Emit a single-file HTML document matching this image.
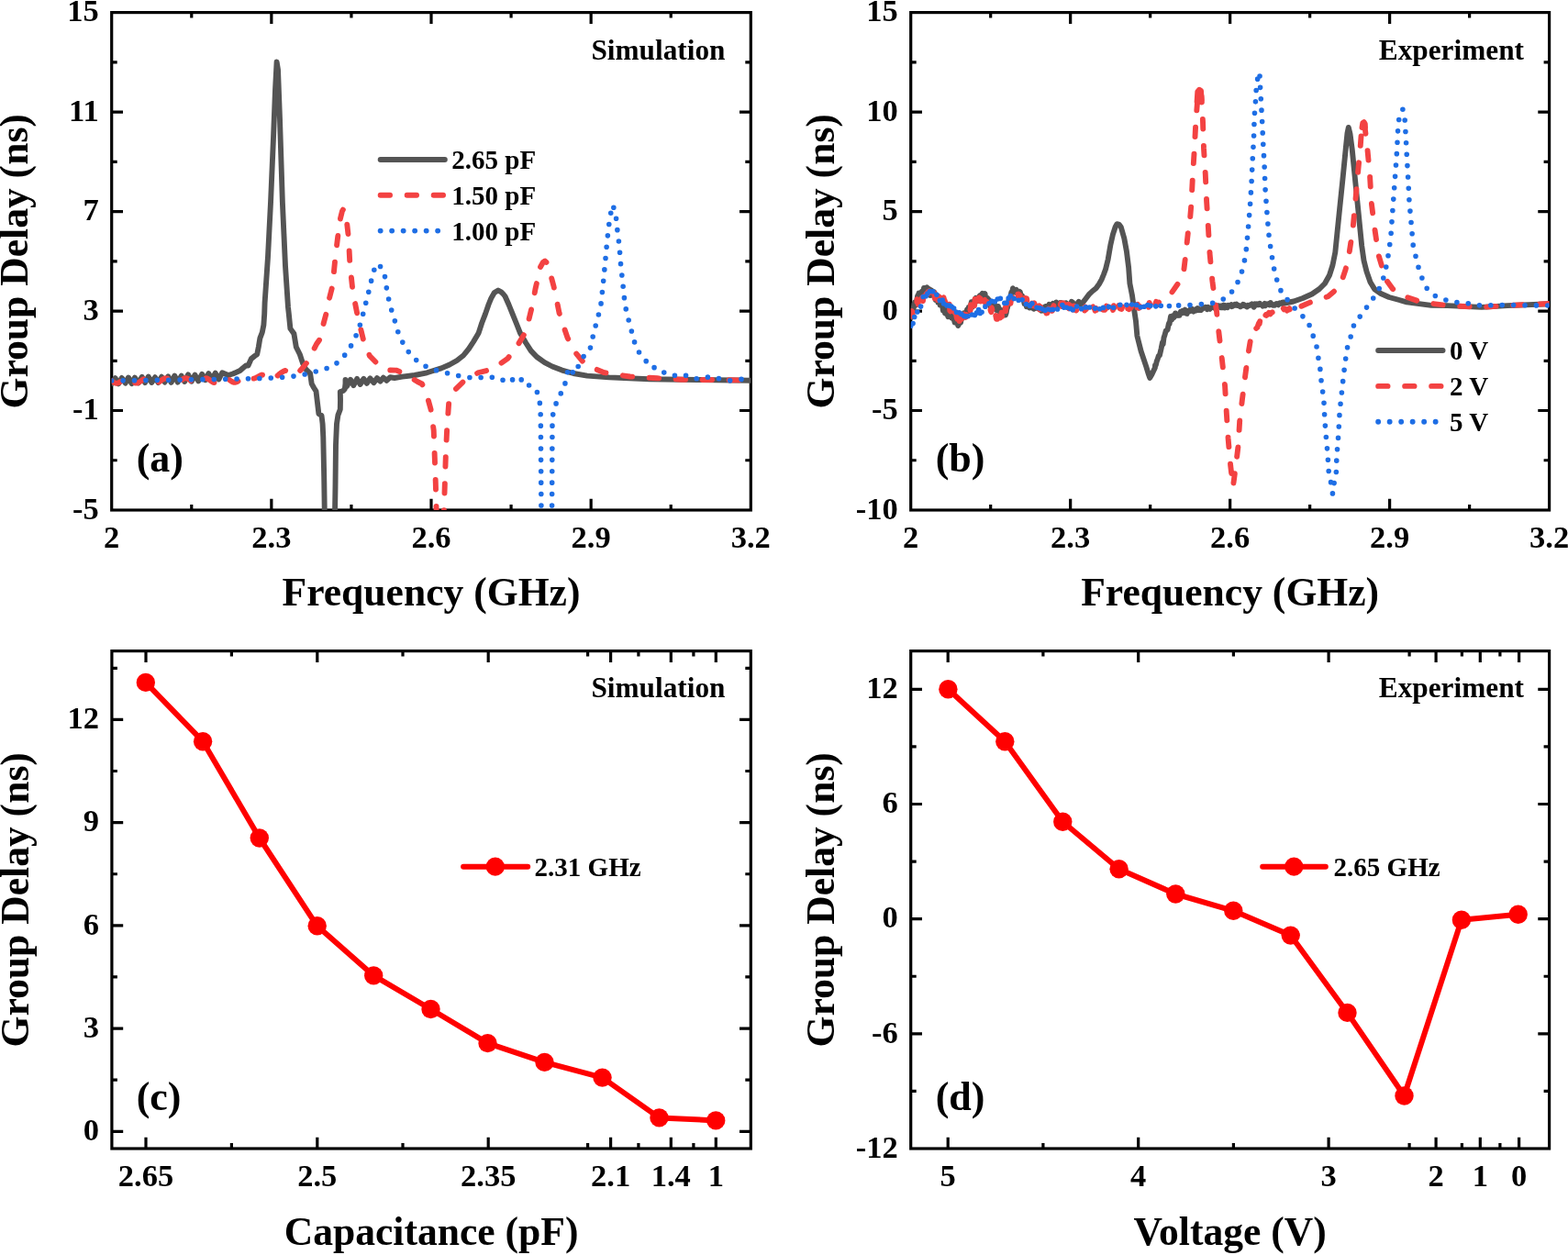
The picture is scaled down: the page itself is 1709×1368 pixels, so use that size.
<!DOCTYPE html>
<html><head><meta charset="utf-8"><title>Group delay figure</title><style>html,body{margin:0;padding:0;background:#fff;}
body{width:1709px;height:1368px;overflow:hidden;}
svg{display:block;}
text{font-family:'Liberation Serif', 'Times New Roman', serif;font-weight:bold;fill:#000;}
.t{font-size:34.5px;}
.ax{font-size:43.6px;}
.pl{font-size:44px;}
.an{font-size:31.3px;}
.lg{font-size:29px;}
</style></head>
<body><svg width="1709" height="1368" viewBox="0 0 1709 1368"><defs><clipPath id="clipa"><rect x="121.7" y="13.6" width="696.5999999999999" height="542.4"/></clipPath><clipPath id="clipb"><rect x="992.7" y="13.6" width="695.8999999999999" height="542.4"/></clipPath><clipPath id="clipc"><rect x="121.9" y="709.6" width="696.4" height="542.4"/></clipPath><clipPath id="clipd"><rect x="992.7" y="709.6" width="695.8999999999999" height="542.4"/></clipPath></defs><rect width="100%" height="100%" fill="#fff"/><rect x="121.7" y="13.6" width="696.6" height="542.4" fill="none" stroke="#000" stroke-width="3.2"/><rect x="992.7" y="13.6" width="695.9" height="542.4" fill="none" stroke="#000" stroke-width="3.2"/><rect x="121.9" y="709.6" width="696.4" height="542.4" fill="none" stroke="#000" stroke-width="3.2"/><rect x="992.7" y="709.6" width="695.9" height="542.4" fill="none" stroke="#000" stroke-width="3.2"/><path d="M295.85 556v-12.3M295.85 13.6v12.3M470 556v-12.3M470 13.6v12.3M644.15 556v-12.3M644.15 13.6v12.3M208.77 556v-6.0M208.77 13.6v6.0M382.93 556v-6.0M382.93 13.6v6.0M557.07 556v-6.0M557.07 13.6v6.0M731.22 556v-6.0M731.22 13.6v6.0" stroke="#000" stroke-width="3.2" fill="none"/><path d="M121.7 447.52h12.3M818.3 447.52h-12.3M121.7 339.04h12.3M818.3 339.04h-12.3M121.7 230.56h12.3M818.3 230.56h-12.3M121.7 122.08h12.3M818.3 122.08h-12.3M121.7 501.76h6.0M818.3 501.76h-6.0M121.7 393.28h6.0M818.3 393.28h-6.0M121.7 284.8h6.0M818.3 284.8h-6.0M121.7 176.32h6.0M818.3 176.32h-6.0M121.7 67.84h6.0M818.3 67.84h-6.0" stroke="#000" stroke-width="3.2" fill="none"/><text x="121.7" y="597" text-anchor="middle" class="t">2</text><text x="295.85" y="597" text-anchor="middle" class="t">2.3</text><text x="470" y="597" text-anchor="middle" class="t">2.6</text><text x="644.15" y="597" text-anchor="middle" class="t">2.9</text><text x="818.3" y="597" text-anchor="middle" class="t">3.2</text><text x="107.7" y="565.8" text-anchor="end" class="t">-5</text><text x="107.7" y="457.32" text-anchor="end" class="t">-1</text><text x="107.7" y="348.84" text-anchor="end" class="t">3</text><text x="107.7" y="240.36" text-anchor="end" class="t">7</text><text x="107.7" y="131.88" text-anchor="end" class="t">11</text><text x="107.7" y="23.4" text-anchor="end" class="t">15</text><path d="M1166.67 556v-12.3M1166.67 13.6v12.3M1340.65 556v-12.3M1340.65 13.6v12.3M1514.62 556v-12.3M1514.62 13.6v12.3M1079.69 556v-6.0M1079.69 13.6v6.0M1253.66 556v-6.0M1253.66 13.6v6.0M1427.64 556v-6.0M1427.64 13.6v6.0M1601.61 556v-6.0M1601.61 13.6v6.0" stroke="#000" stroke-width="3.2" fill="none"/><path d="M992.7 447.52h12.3M1688.6 447.52h-12.3M992.7 339.04h12.3M1688.6 339.04h-12.3M992.7 230.56h12.3M1688.6 230.56h-12.3M992.7 122.08h12.3M1688.6 122.08h-12.3M992.7 501.76h6.0M1688.6 501.76h-6.0M992.7 393.28h6.0M1688.6 393.28h-6.0M992.7 284.8h6.0M1688.6 284.8h-6.0M992.7 176.32h6.0M1688.6 176.32h-6.0M992.7 67.84h6.0M1688.6 67.84h-6.0" stroke="#000" stroke-width="3.2" fill="none"/><text x="992.7" y="597" text-anchor="middle" class="t">2</text><text x="1166.67" y="597" text-anchor="middle" class="t">2.3</text><text x="1340.65" y="597" text-anchor="middle" class="t">2.6</text><text x="1514.62" y="597" text-anchor="middle" class="t">2.9</text><text x="1688.6" y="597" text-anchor="middle" class="t">3.2</text><text x="978.7" y="565.8" text-anchor="end" class="t">-10</text><text x="978.7" y="457.32" text-anchor="end" class="t">-5</text><text x="978.7" y="348.84" text-anchor="end" class="t">0</text><text x="978.7" y="240.36" text-anchor="end" class="t">5</text><text x="978.7" y="131.88" text-anchor="end" class="t">10</text><text x="978.7" y="23.4" text-anchor="end" class="t">15</text><path d="M159 1252v-12.3M159 709.6v12.3M345.8 1252v-12.3M345.8 709.6v12.3M532.2 1252v-12.3M532.2 709.6v12.3M665.6 1252v-12.3M665.6 709.6v12.3M731.3 1252v-12.3M731.3 709.6v12.3M780.3 1252v-12.3M780.3 709.6v12.3M252.4 1252v-6.0M252.4 709.6v6.0M439 1252v-6.0M439 709.6v6.0M640.6 1252v-6.0M640.6 709.6v6.0M695.9 1252v-6.0M695.9 709.6v6.0M755.9 1252v-6.0M755.9 709.6v6.0" stroke="#000" stroke-width="3.2" fill="none"/><path d="M121.9 1233.3h12.3M818.3 1233.3h-12.3M121.9 1121.08h12.3M818.3 1121.08h-12.3M121.9 1008.86h12.3M818.3 1008.86h-12.3M121.9 896.63h12.3M818.3 896.63h-12.3M121.9 784.41h12.3M818.3 784.41h-12.3M121.9 1177.19h6.0M818.3 1177.19h-6.0M121.9 1064.97h6.0M818.3 1064.97h-6.0M121.9 952.74h6.0M818.3 952.74h-6.0M121.9 840.52h6.0M818.3 840.52h-6.0M121.9 728.3h6.0M818.3 728.3h-6.0" stroke="#000" stroke-width="3.2" fill="none"/><text x="159" y="1293" text-anchor="middle" class="t">2.65</text><text x="345.8" y="1293" text-anchor="middle" class="t">2.5</text><text x="532.2" y="1293" text-anchor="middle" class="t">2.35</text><text x="665.6" y="1293" text-anchor="middle" class="t">2.1</text><text x="731.3" y="1293" text-anchor="middle" class="t">1.4</text><text x="780.3" y="1293" text-anchor="middle" class="t">1</text><text x="107.9" y="1243.1" text-anchor="end" class="t">0</text><text x="107.9" y="1130.88" text-anchor="end" class="t">3</text><text x="107.9" y="1018.66" text-anchor="end" class="t">6</text><text x="107.9" y="906.43" text-anchor="end" class="t">9</text><text x="107.9" y="794.21" text-anchor="end" class="t">12</text><path d="M1033.2 1252v-12.3M1033.2 709.6v12.3M1240.7 1252v-12.3M1240.7 709.6v12.3M1448.1 1252v-12.3M1448.1 709.6v12.3M1565.1 1252v-12.3M1565.1 709.6v12.3M1613.3 1252v-12.3M1613.3 709.6v12.3M1655.6 1252v-12.3M1655.6 709.6v12.3M1136.9 1252v-6.0M1136.9 709.6v6.0M1344.4 1252v-6.0M1344.4 709.6v6.0M1536.1 1252v-6.0M1536.1 709.6v6.0M1593.4 1252v-6.0M1593.4 709.6v6.0M1634.9 1252v-6.0M1634.9 709.6v6.0" stroke="#000" stroke-width="3.2" fill="none"/><path d="M992.7 1126.83h12.3M1688.6 1126.83h-12.3M992.7 1001.66h12.3M1688.6 1001.66h-12.3M992.7 876.49h12.3M1688.6 876.49h-12.3M992.7 751.32h12.3M1688.6 751.32h-12.3M992.7 1189.42h6.0M1688.6 1189.42h-6.0M992.7 1064.25h6.0M1688.6 1064.25h-6.0M992.7 939.08h6.0M1688.6 939.08h-6.0M992.7 813.91h6.0M1688.6 813.91h-6.0" stroke="#000" stroke-width="3.2" fill="none"/><text x="1033.2" y="1293" text-anchor="middle" class="t">5</text><text x="1240.7" y="1293" text-anchor="middle" class="t">4</text><text x="1448.1" y="1293" text-anchor="middle" class="t">3</text><text x="1565.1" y="1293" text-anchor="middle" class="t">2</text><text x="1613.3" y="1293" text-anchor="middle" class="t">1</text><text x="1655.6" y="1293" text-anchor="middle" class="t">0</text><text x="978.7" y="1261.8" text-anchor="end" class="t">-12</text><text x="978.7" y="1136.63" text-anchor="end" class="t">-6</text><text x="978.7" y="1011.46" text-anchor="end" class="t">0</text><text x="978.7" y="886.29" text-anchor="end" class="t">6</text><text x="978.7" y="761.12" text-anchor="end" class="t">12</text><path d="M121.7 418.17 L125.63 412.11 L129.13 418.29 L132.76 411.95 L136.65 417.71 L139.98 411.5 L143.6 418.14 L146.91 411.61 L150.75 417.44 L154.75 410.88 L158.08 417.04 L161.79 410.58 L165.38 417.01 L168.99 411.19 L172.46 417.03 L176.14 410.72 L179.61 416.62 L183.26 410.33 L186.58 416.88 L190.3 409.55 L193.74 416.68 L197.68 409.63 L201.23 416.02 L205.06 408.35 L208.68 415.76 L212.48 408.55 L216.22 415.43 L220.15 407.88 L223.89 414.14 L227.38 407.05 L230.99 413.79 L234.7 406.57 L238.5 413.49 L242.13 406.19 L248.7 409 L253.7 407.5 L261.6 404 L265 401 L268 398.5 L270.5 398.5 L273.8 391.1 L277.8 387.9 L280.2 386.3 L281.8 378.2 L283.4 368.6 L285.8 362.2 L287.4 354.1 L288.2 342.1 L288.6 330 L292 280 L295 221 L298 150 L300 98 L301.6 67.5 L303 76 L305 130 L307.9 221 L311 290 L314 335 L314.8 342.1 L316.4 358.1 L320.4 363.8 L322.8 378.2 L326.8 386.3 L328.4 391.1 L330 395.9 L333.2 402.3 L338.1 407.2 L339.7 418.4 L342 422.5 L344.5 426.5 L346.1 440 L347.4 451 L350.5 453 L351.6 462 L352.3 476.7 L353.2 520 L353.8 560 L365 560 L365.5 530 L366 484.8 L367 462 L368.4 452.6 L370.8 446.2 L371 436 L370.8 427 L374 426 L375.8 424 L376.5 418 L376.5 414 L378 421.09 L381.98 413.73 L385.32 420.06 L389.15 412.9 L392.66 418.95 L396.38 412.76 L399.78 417.91 L403.36 412.31 L407.37 417.18 L411.05 412.08 L414.53 415.56 L417.84 411.69 L421.35 414.8 L425.29 411.24 L430 412 L438.4 410.6 L451.9 409 L465.3 406.3 L474 403.5 L481 401.4 L490 397.5 L498 393 L505 387.5 L511 380.2 L516 372.5 L521.5 363.3 L525.2 352 L529 342.1 L532.5 332 L535.3 325.1 L538.8 319 L543 316.5 L546.3 318.3 L548.5 320.5 L550.5 323 L554.5 332 L558.6 342.1 L563 353 L567.1 363.3 L573 373.5 L578.7 382.4 L585 389 L593.6 395.1 L602 399.5 L612.6 403.6 L625 407 L640 409.6 L663.9 411.4 L707.7 413.2 L760.4 414 L819 414.8" fill="none" stroke="#545454" stroke-width="5.9" stroke-linecap="round" stroke-linejoin="round" clip-path="url(#clipa)"/><path d="M121.7 415.2 L123.2 416.3 L124.7 417.18 L126.2 417.69 L127.7 417.73 L129.2 417.28 L130.7 416.43 L132.2 415.34 L133.7 414.22 L135.2 413.27 L136.7 412.67 L138.2 412.54 L139.7 412.9 L141.2 413.67 L142.7 414.72 L144.2 415.84 L145.7 416.82 L147.2 417.47 L148.7 417.67 L150.2 417.38 L151.7 416.65 L153.2 415.62 L154.7 414.48 L156.2 413.45 L157.7 412.72 L159.2 412.43 L160.7 412.62 L162.2 413.28 L163.7 414.25 L165.2 415.38 L166.7 416.42 L168.2 417.2 L169.7 417.56 L171.2 417.43 L172.7 416.83 L174.2 415.88 L175.7 414.76 L177.2 413.67 L178.7 412.82 L180.2 412.37 L181.7 412.4 L183.2 412.91 L184.7 413.8 L186.2 414.9 L187.7 415.99 L189.2 416.88 L190.7 417.39 L192.2 417.43 L193.7 416.98 L195.2 416.13 L196.7 415.04 L198.2 413.91 L199.7 412.96 L201.2 412.37 L202.7 412.24 L204.2 412.59 L205.7 413.37 L207.2 414.42 L208.7 415.54 L210.2 416.52 L211.7 417.17 L213.2 417.37 L214.7 417.08 L216.2 416.35 L217.7 415.32 L219.2 414.18 L220.7 413.15 L222.2 412.42 L223.7 412.12 L225.2 412.32 L226.7 412.97 L228.2 413.95 L229.7 415.07 L231.2 416.12 L232.7 416.9 L234.2 417.26 L235.7 417.13 L237.2 416.53 L238.7 415.58 L240.2 414.46 L241.7 413.37 L243.2 412.52 L244.7 412.07 L246.2 412.1 L247.7 412.61 L249.2 413.5 L250.7 414.56 L252.2 415.59 L253.7 416.41 L255.2 416.86 L256.7 416.82 L258.2 416.3 L259.7 415.39 L261.2 414.23 L262.7 413.03 L264.2 411.99 L265.7 413.01 L267.2 412.88 L268.7 412.9 L270.2 413.01 L271.7 412.96 L273.2 412.93 L274.7 412.86 L276.2 412.67 L277.7 412.23 L279.2 411.64 L280.7 410.92 L282.2 410.11 L283.7 409.26 L285.2 408.57 L286.7 408.77 L288.2 409.11 L289.7 409.61 L291.2 410.24 L292.7 410.94 L294.2 411.67 L295.7 412.37 L297.2 412.98 L298.7 412.77 L300.2 411.61 L301.7 410.3 L303.2 408.89 L304.7 407.59 L306.2 406.51 L307.7 405.5 L309.2 404.61 L310.7 403.88 L312.2 404.31 L313.7 405.12 L315.2 406 L316.7 406.88 L318.2 407.63 L319.7 407.94 L321.2 408.11 L322.7 408.12 L324.2 406.95 L325.7 405.44 L327.2 403.91 L328.7 402.45 L334.6 395.1 L340 385 L345 375 L349.2 369 L352 355 L356.1 339.8 L359 325 L362.5 311.4 L365.3 282.2 L368.8 253 L371 238 L373 230 L374.5 227.7 L376.5 233 L378 242 L379.9 259.2 L381.4 288.3 L384.5 317.5 L389.9 345.2 L396.8 373.6 L403 388 L412.2 397.4 L417 399.5 L424 403.5 L431.7 403.6 L440 407 L447.8 411.7 L455 416 L460 418.5 L464.2 426.9 L469.5 446 L472.7 469 L473.8 499 L474.8 526.5 L476 570 L483.5 570 L485 522 L485.9 494.7 L487.1 469 L489.3 437.5 L492 430 L496 424.8 L505 416 L513 410 L522 406 L532.1 403.6 L543 398 L553.3 390.8 L562 380 L572 363.3 L576.5 348 L580.5 331.5 L583.5 315 L586.5 301.8 L589 291 L591.8 286 L594 284.5 L596.5 287 L599.5 297 L603.5 312 L606.5 326 L609.5 341 L614 355 L618.5 368 L627 384 L636 395 L645 400.5 L658 406 L663.9 407 L686.7 410.5 L716.5 412.3 L742.8 413.7 L772.6 414 L819 414.5" fill="none" stroke="#f34242" stroke-width="5.9" stroke-linecap="round" stroke-linejoin="round" stroke-dasharray="10.4 18.6" clip-path="url(#clipa)"/><path d="M121.7 415 L200 414 L252.7 413.1 L289 412.4 L313.9 410.8 L326.7 409.3 L339.5 406.3 L351.6 403 L361.7 399.6 L371.1 392.9 L379.5 382.4 L386.1 370.5 L390.9 359.1 L394.4 347.4 L397.5 335.1 L400.7 322.5 L403.7 310.5 L406.3 298.2 L409 291 L411.9 287.2 L415 291 L418.9 297.4 L420.7 310.2 L422.8 322.5 L425.6 334.6 L429.5 346.5 L432.6 358.8 L437 369.8 L442.8 380.4 L449.8 389.5 L459.8 397.4 L471.2 402.6 L483.5 405.6 L496 408.9 L508.8 411 L519.4 412.5 L530 410.3 L538.4 411.6 L546.9 414.8 L555.4 411 L562.8 417.8 L570.2 412.5 L575.5 419.5 L583 422.6 L587.2 431.1 L588.9 443.4 L589.3 455.5 L590 570 L601.5 570 L602 454.4 L605.2 442.8 L608.4 432.2 L614.8 424.8 L616.9 412 L620 400.4 L626.1 408 L630.5 398.8 L636.1 388.6 L642.8 382.1 L645.4 370.2 L648.4 357.9 L651.6 346.1 L654.7 334.2 L656.1 321.4 L657.4 309.1 L658.6 296.5 L659.8 284.2 L660.9 271.4 L662.1 259.3 L663.5 246.5 L665.3 234.2 L667.9 223.3 L671.2 233.9 L672.3 246.5 L673.9 258.4 L675.3 271 L676.1 283.7 L677.4 296 L678.8 308.8 L680 321 L681.4 333.3 L684.2 345.3 L687.5 357.5 L690.5 369.3 L694 381.2 L701.6 389.5 L708.2 400 L717.4 401.2 L726.1 407.9 L734.9 409.3 L745.4 408.2 L754.7 412.6 L763.9 412.8 L774.4 410.5 L784 412.8 L795.4 414.9 L805.1 413.7 L819 412.3" fill="none" stroke="#1e6ee5" stroke-width="5.6" stroke-linecap="round" stroke-linejoin="round" stroke-dasharray="0 12.4" clip-path="url(#clipa)"/><path d="M992.7 344.67 L993.43 345.75 L994.11 340.77 L994.86 336.24 L995.57 337.21 L996.43 331.07 L997.02 329.58 L997.9 331.61 L998.34 332.52 L999.3 327.83 L1000.07 322.5 L1000.49 324.46 L1000.95 321.42 L1001.5 319.47 L1002.18 321.33 L1003.07 320.55 L1003.85 319.25 L1004.64 317.77 L1005.22 320.69 L1006.2 318.13 L1007.01 313.87 L1007.56 313.96 L1008.02 317.53 L1008.67 318.42 L1009.3 319.52 L1010.2 313.27 L1010.73 319.91 L1011.42 320.74 L1012.06 314.72 L1012.83 320.04 L1013.4 315.49 L1014.01 321.94 L1014.85 316.44 L1015.41 316.6 L1015.87 321.7 L1016.39 320.3 L1017.06 318.06 L1017.89 318.14 L1018.67 319.18 L1019.32 320.82 L1019.89 326.96 L1020.76 323.57 L1021.68 324.26 L1022.32 329.7 L1023.1 325.57 L1024.07 327.78 L1024.64 332.53 L1025.24 330.08 L1025.7 329.31 L1026.45 331.47 L1027.21 333.48 L1027.88 338.58 L1028.57 336.9 L1029.48 335.49 L1029.98 341.31 L1030.86 337.98 L1031.39 342.18 L1032.33 339.69 L1033.28 345.27 L1034.04 342.68 L1034.52 340.39 L1035.48 342.59 L1036.29 343.39 L1037.18 346.5 L1037.76 344.03 L1038.58 343.97 L1039.13 347.86 L1040.03 348.99 L1040.61 351.58 L1041.14 345.72 L1041.71 349.2 L1042.16 347.69 L1042.79 350.98 L1043.28 349.92 L1044.2 355.01 L1044.99 353.63 L1045.74 350.05 L1046.18 348.44 L1047.11 351.64 L1048.07 345.25 L1048.84 347.15 L1049.67 344.6 L1050.65 341.22 L1051.38 344.62 L1052.3 343.05 L1053.12 342.05 L1054.05 337.38 L1054.85 339.85 L1055.76 334.92 L1056.62 336.58 L1057.36 334.21 L1058 333.37 L1058.76 329.21 L1059.54 334.93 L1060.45 332.3 L1061.09 331.8 L1061.83 329.11 L1062.72 325.85 L1063.56 324.76 L1064.32 327.27 L1064.87 328.32 L1065.57 327.14 L1066.5 323.83 L1066.93 323.79 L1067.73 322.42 L1068.24 326.9 L1069.03 322.98 L1069.95 321.39 L1070.74 319.82 L1071.41 323.5 L1072.34 323.32 L1072.97 322.2 L1073.57 319.98 L1074.27 325.94 L1075.16 326.42 L1076.12 324.82 L1076.63 326.82 L1077.2 326.03 L1077.86 329.9 L1078.55 328.78 L1079.44 334.38 L1080.12 328.52 L1080.55 334.44 L1081 333.62 L1081.74 331.37 L1082.6 329.98 L1083.1 333.4 L1083.53 336.34 L1084.08 331.93 L1084.53 335.68 L1085.2 336.18 L1085.99 338.01 L1086.94 337.86 L1087.47 336.78 L1087.99 333.89 L1088.68 339.21 L1089.2 336.41 L1089.81 339.74 L1090.52 339.57 L1091.37 338.51 L1092.23 342.6 L1092.7 343.06 L1093.52 337.91 L1094.2 341.77 L1095.13 340.57 L1095.87 343.48 L1096.73 341.09 L1097.41 336.81 L1097.95 335.55 L1098.83 332.11 L1099.65 326.41 L1100.57 327.79 L1101.54 322.39 L1102.4 318.48 L1103.33 318.11 L1103.95 314.22 L1104.61 316.81 L1105.46 316.83 L1105.9 318.6 L1106.36 318.73 L1106.87 316.6 L1107.73 315.96 L1108.24 318.03 L1109.06 319.96 L1109.87 320.8 L1110.56 321.08 L1111.03 317.62 L1111.75 318.24 L1112.57 320.79 L1113.29 323.37 L1114.02 322.31 L1114.65 326.36 L1115.58 325.18 L1116.48 330.94 L1117.19 330.52 L1117.72 331.49 L1118.42 332.4 L1118.86 334.36 L1119.57 331.76 L1120.44 332.85 L1121.13 333.73 L1121.59 333.12 L1122.24 335.42 L1123.18 332.29 L1123.86 331.81 L1124.52 335.47 L1125.45 334.08 L1126.05 332.86 L1126.81 336.78 L1127.31 336.21 L1127.74 333.43 L1128.29 336.08 L1128.89 334.62 L1129.65 333.62 L1130.48 333.98 L1131.19 334.86 L1131.72 336.43 L1132.38 335.88 L1133.03 336.86 L1133.54 335.4 L1134.32 337.83 L1135.03 338.78 L1135.8 338.56 L1136.35 337.8 L1137.22 338.32 L1137.82 335.18 L1138.75 334.39 L1139.73 337.41 L1140.23 334.01 L1141.06 333.84 L1141.53 336.55 L1142.19 336.12 L1142.68 334.02 L1143.48 331.83 L1144.01 334.98 L1144.94 336.1 L1145.43 333.63 L1146.27 333.34 L1147.08 331.5 L1147.54 330.94 L1147.98 333.02 L1148.69 332.87 L1149.19 330.79 L1149.72 333.89 L1150.7 334 L1151.17 329.52 L1152.12 331.48 L1152.97 330.78 L1153.65 331.71 L1154.31 332.12 L1154.74 332.61 L1155.63 329.98 L1156.31 332.75 L1156.95 330.01 L1157.47 331.59 L1157.9 333.48 L1158.76 332.51 L1159.67 332.11 L1160.31 331.94 L1161.02 333.84 L1161.89 330.19 L1162.82 332.59 L1163.67 332.92 L1164.32 333.31 L1165.23 332.28 L1166.08 332.61 L1166.73 332.37 L1167.19 330.46 L1167.87 328.78 L1168.49 331.91 L1169.26 329.85 L1170.21 331.99 L1170.82 331.95 L1171.56 331.29 L1172.19 333.61 L1172.97 332.09 L1173.82 333.46 L1174.25 331.63 L1175.09 329.81 L1175.73 328.76 L1178 331.5 L1180 330 L1183.5 325.5 L1186.7 321.2 L1190.5 317.5 L1194.6 314.2 L1198 309.5 L1200.7 304.6 L1203 299 L1205.1 293.2 L1207.7 282.6 L1210.4 266.8 L1213 255.4 L1215.6 247.5 L1217.4 244.2 L1219.6 244.6 L1221.8 247.5 L1225.3 259.8 L1227.9 273.9 L1230.1 291.4 L1231.4 309 L1234 322.1 L1235.8 335.3 L1238 350 L1239.4 366.1 L1243.6 382.8 L1249.2 399.4 L1251.5 407 L1253.3 411.9 L1255.5 408 L1258.9 400.8 L1259 398.26 L1259.69 398.22 L1260.84 393.55 L1261.53 392.01 L1262.73 388.04 L1263.93 387.23 L1264.63 384.3 L1265.59 380.07 L1266.99 373.17 L1267.61 375.26 L1268.53 367.95 L1269.39 365.57 L1270.76 360.41 L1271.53 360.23 L1272.57 359.3 L1273.84 352.69 L1274.6 353.09 L1275.99 345.08 L1277.18 348.55 L1278.3 344.35 L1279.54 346.1 L1280.3 345.09 L1281.07 341.41 L1281.94 342.29 L1282.86 343.25 L1284.13 343.95 L1285.51 343.76 L1286.74 339.9 L1287.48 341.37 L1288.52 341.39 L1289.19 338.73 L1290.53 340.54 L1291.68 337.64 L1292.6 341.66 L1293.72 341.91 L1294.48 339.01 L1295.72 338.78 L1296.95 339.21 L1297.65 336.71 L1299.03 336.62 L1299.79 337.63 L1300.96 339.59 L1301.94 338.17 L1303.17 337.21 L1304.07 338.27 L1305.18 336.02 L1305.87 336.28 L1307.05 338.09 L1308.42 338.14 L1309.23 338 L1310.62 336.28 L1311.23 336.28 L1312.05 335.44 L1312.69 335.15 L1313.98 334.68 L1315.07 335.07 L1315.83 337.16 L1316.66 334.74 L1317.63 336.42 L1318.65 336.86 L1319.57 335.5 L1320.74 335.09 L1321.92 334.93 L1322.62 333.62 L1323.85 335.77 L1325.2 335.49 L1326.27 333.53 L1327.55 333.28 L1328.49 333.29 L1329.39 333.83 L1330.34 335.22 L1331.37 333.47 L1332.59 335.16 L1333.85 332.55 L1334.95 335.58 L1335.75 333.04 L1337 333.54 L1337.92 335.11 L1338.83 332.82 L1339.6 333.3 L1340.76 333.3 L1341.98 332.14 L1342.78 334.1 L1343.76 333.58 L1345.11 332.7 L1345.85 331.8 L1346.84 332.73 L1347.82 331.65 L1348.42 332.99 L1349.63 332.67 L1350.96 333.64 L1351.88 334.33 L1352.67 333.7 L1353.94 333.43 L1354.8 331.81 L1355.86 332.12 L1356.76 333.37 L1358.11 333.81 L1359.12 334.45 L1359.97 332.74 L1361.11 333.31 L1361.89 332.78 L1363.15 332.14 L1364.31 331.41 L1365.68 333.67 L1366.54 334.7 L1367.77 331.29 L1368.57 332.78 L1369.97 331.41 L1370.61 331.99 L1371.25 332.29 L1372.28 332.32 L1372.99 330.77 L1374.23 332.18 L1375.22 332.24 L1376.36 333.68 L1377.63 332.96 L1378.5 330.89 L1379.17 333.32 L1379.81 332.23 L1381.14 331.24 L1382.05 331.52 L1383.41 332.38 L1384.68 329.96 L1385.86 331.36 L1386.79 332.61 L1387.97 332.86 L1389.16 332.77 L1390.11 331.43 L1391.33 330.97 L1392.04 331.39 L1393.34 332.32 L1394.04 330.51 L1394.82 330.31 L1396.19 330.49 L1397.04 329.9 L1397.99 331.26 L1398.87 329.45 L1399.65 329.66 L1400 330.5 L1410 328.5 L1420 325 L1430 320.5 L1438 315 L1444 309 L1449 300 L1452.5 289 L1455.3 275 L1459.6 232.8 L1463.2 197.7 L1466.7 162.6 L1468.5 145 L1469.8 138.9 L1471.5 146 L1473.7 162.6 L1477.2 197.7 L1480.7 232.8 L1484.2 267.9 L1486.5 284 L1489.5 296 L1493.5 307.5 L1498.2 315.3 L1505 320 L1514 324 L1533.3 329.3 L1560 332.8 L1577.5 333.1 L1614.9 334.9 L1643 333.1 L1689 331.2" fill="none" stroke="#545454" stroke-width="5.9" stroke-linecap="round" stroke-linejoin="round" clip-path="url(#clipb)"/><path d="M992.7 344.81 L993.32 344.86 L993.71 338.98 L994.21 339.86 L994.89 341.46 L995.49 339.1 L996.11 334.55 L996.63 333.49 L997.36 331.05 L998.05 329.6 L998.68 330.15 L999.19 332.84 L999.53 326.13 L1000.26 328.3 L1000.63 331.7 L1001.38 324.57 L1001.9 324.41 L1002.36 327.81 L1002.76 328.13 L1003.12 323.91 L1003.81 325.21 L1004.32 326.37 L1004.86 324.42 L1005.2 326.79 L1005.96 328.21 L1006.58 323.1 L1007.07 325.32 L1007.7 320.54 L1008.13 322.16 L1008.69 325.2 L1009.24 318.91 L1009.93 321.52 L1010.49 319.58 L1011 320.51 L1011.67 317.92 L1012.25 318.17 L1012.88 317.35 L1013.33 319.86 L1013.94 317.89 L1014.48 319.29 L1014.93 321.5 L1015.68 321.83 L1016.43 319.75 L1017.17 321.53 L1017.58 324.62 L1018.31 319.27 L1018.76 325.25 L1019.24 321.42 L1019.58 320.02 L1020.18 327.43 L1020.95 324.08 L1021.29 322.84 L1021.96 326.98 L1022.58 322.65 L1023.14 324.75 L1023.74 323.36 L1024.49 328.45 L1024.89 324.03 L1025.61 324.21 L1026.35 326.31 L1026.99 328 L1027.41 324.98 L1027.85 328.18 L1028.49 324.24 L1029.21 327 L1029.65 327.68 L1030.41 329.62 L1031.01 333.15 L1031.76 332.92 L1032.28 332.29 L1033.01 334.76 L1033.59 332.17 L1034.08 335.76 L1034.66 331.05 L1035.3 338.63 L1035.98 339.47 L1036.71 337.67 L1037.39 337.38 L1037.76 337.66 L1038.23 342.69 L1038.87 340.53 L1039.47 338.15 L1040.03 343.25 L1040.54 340.23 L1041.05 341.26 L1041.68 340.42 L1042.05 342.03 L1042.68 345.98 L1043.3 347.84 L1043.8 341.39 L1044.34 345 L1044.75 347.05 L1045.23 344.2 L1045.7 349.97 L1046.04 345.82 L1046.49 345 L1047.01 345.6 L1047.74 348.36 L1048.38 345.08 L1048.92 347.76 L1049.62 344.13 L1050.15 348.04 L1050.84 342.36 L1051.41 345.68 L1051.92 344.35 L1052.54 345.82 L1053.11 342.85 L1053.59 342.61 L1054.07 340.23 L1054.56 338.13 L1054.95 337 L1055.51 336.46 L1055.87 340.2 L1056.32 340.61 L1056.91 335.68 L1057.63 338.61 L1058.1 332.13 L1058.71 336.78 L1059.31 335.56 L1059.82 333.63 L1060.27 331.44 L1060.76 330.63 L1061.27 333.18 L1061.67 328.07 L1062.12 333.32 L1062.68 325.99 L1063.37 332.01 L1064.07 327.89 L1064.72 327.28 L1065.11 331.42 L1065.81 326.23 L1066.52 324.59 L1066.99 324.36 L1067.39 325.38 L1068.04 326.2 L1068.45 325.21 L1068.92 330.22 L1069.52 324.27 L1070.15 327.37 L1070.67 327.14 L1071.29 329.03 L1071.84 327.61 L1072.38 327.43 L1072.88 325.61 L1073.44 327.79 L1073.89 330.07 L1074.44 330.36 L1075.07 332.08 L1075.7 329.01 L1076.21 331.15 L1076.87 333.9 L1077.26 328.58 L1077.64 329.32 L1077.99 329.28 L1078.43 330.73 L1079.06 335.5 L1079.82 339.26 L1080.48 340.17 L1080.82 335.2 L1081.55 338.19 L1081.98 340.96 L1082.49 340.22 L1082.96 338.87 L1083.33 342.39 L1084.08 346.79 L1084.75 347.73 L1085.23 343.89 L1085.97 347.67 L1086.6 344.46 L1087.03 348.9 L1087.68 352.83 L1088.34 348.38 L1088.84 351.42 L1089.6 347.13 L1090.02 347.42 L1090.59 344.37 L1091.02 343.75 L1091.62 340.67 L1092.18 345.89 L1092.84 339.34 L1093.36 337.25 L1094.01 340.06 L1094.42 338.66 L1095.01 337.79 L1095.51 334.83 L1095.99 339.35 L1096.47 334.94 L1097 331.71 L1097.51 331.27 L1097.98 331.86 L1098.46 335.54 L1098.92 330.31 L1099.54 329.96 L1100.1 330.81 L1100.46 330.45 L1100.83 327.58 L1101.52 330.78 L1102.15 325.35 L1102.67 325.26 L1103.37 324.03 L1103.79 325.73 L1104.4 324.63 L1104.94 325.96 L1105.47 325.12 L1105.97 321.79 L1106.46 322.53 L1107.12 318.96 L1107.68 320.93 L1108.23 320.69 L1108.83 321.36 L1109.32 319.39 L1109.66 322.88 L1110.34 320.51 L1111.09 323.87 L1111.49 323.75 L1112.01 321.16 L1112.45 322 L1112.8 320.19 L1113.18 321.87 L1113.58 321.09 L1114.28 322.98 L1114.83 324.57 L1115.57 322.5 L1116 326.77 L1116.73 327.64 L1117.29 324.84 L1117.7 328.15 L1118.37 326.56 L1119.05 325.37 L1119.61 329.35 L1119.99 327.97 L1120.4 329.47 L1121.1 328.83 L1121.62 325.68 L1122.17 327.92 L1122.68 326.67 L1123.41 329.63 L1123.99 331.77 L1124.71 330.57 L1125.28 332.58 L1125.78 333.17 L1126.12 332.79 L1126.68 332.16 L1127.44 330.37 L1127.95 333.92 L1128.61 332.78 L1129.28 334.04 L1130 334.31 L1130.49 332.58 L1130.85 331.88 L1131.2 336.86 L1131.59 335.01 L1131.98 337.28 L1132.55 333.2 L1133.24 337.44 L1134 334.34 L1134.51 337.09 L1134.96 336.85 L1135.6 338.26 L1136.29 338.67 L1136.75 338.97 L1137.27 336 L1137.61 338.74 L1138.1 336.08 L1138.64 338.21 L1139.12 339.34 L1139.68 339.48 L1140.45 341.56 L1140.91 341.16 L1141.38 341.31 L1141.73 337.68 L1142.47 339.26 L1143.11 336.4 L1143.5 340.45 L1143.86 335.89 L1144.37 339.26 L1145 339.97 L1145.68 336.51 L1146.41 335.5 L1146.76 338.93 L1147.48 336.93 L1148.02 334.12 L1148.45 333.16 L1148.82 335.29 L1149.54 337.49 L1150.1 335.78 L1150.63 336.11 L1151.27 336.98 L1151.98 334.94 L1152.57 331.81 L1153.1 333.12 L1153.5 331.56 L1154.01 331.18 L1154.62 331.75 L1155.38 333.39 L1155.94 331.73 L1156.44 330.19 L1157.2 334.12 L1157.81 332.79 L1158.2 332.28 L1158.61 331.17 L1159.2 330.45 L1159.63 333.7 L1160.17 334.73 L1160.57 330.34 L1161.32 333.44 L1161.95 333.3 L1162.35 335.76 L1162.89 335.51 L1163.29 332.06 L1163.86 332.05 L1164.57 332.3 L1164.93 331.85 L1165.38 336.35 L1166.1 334.97 L1166.62 331.59 L1167.31 332.23 L1167.73 334.07 L1168.44 332.83 L1168.8 336.98 L1169.13 336.09 L1169.52 333.75 L1169.94 334.64 L1170 338.38 L1170.5 333.53 L1171.48 334.38 L1171.97 336.82 L1172.58 338.07 L1173.13 338.44 L1173.73 336.59 L1174.67 337.04 L1175.61 337.18 L1176.05 338.08 L1176.8 335.13 L1177.33 337.94 L1178.08 338.41 L1178.93 338.55 L1179.67 337.19 L1180.43 334.92 L1181.39 335.21 L1182.24 338.57 L1183.03 334.36 L1183.91 337.1 L1184.43 333.9 L1185.15 333.82 L1186.09 336.3 L1186.8 335.81 L1187.59 338.46 L1188.18 335.65 L1188.93 335.26 L1189.68 336.55 L1190.34 337.24 L1191.06 334.21 L1192.04 335.62 L1192.7 335.87 L1193.64 338.75 L1194.35 335.89 L1194.82 338.47 L1195.34 336.66 L1195.95 335.54 L1196.57 334.84 L1197.01 336.63 L1197.88 337.23 L1198.41 337.48 L1198.86 336.02 L1199.74 338.69 L1200.42 338.28 L1201.12 336.55 L1201.87 338.94 L1202.71 336.19 L1203.53 337.02 L1204.15 337.72 L1205.03 336.75 L1205.98 333.62 L1206.68 336.78 L1207.29 334.34 L1208.1 335.65 L1208.67 333.58 L1209.63 335.13 L1210.11 334.39 L1210.68 337.74 L1211.2 334.64 L1211.67 335.61 L1212.21 334.93 L1213.04 337.9 L1213.93 333.23 L1214.56 337.4 L1215 334.02 L1215.69 334.91 L1216.53 336.6 L1217.21 334.12 L1217.76 334.17 L1218.22 336.22 L1218.73 337.35 L1219.51 332.98 L1220.21 335.78 L1220.65 335.14 L1221.09 336.57 L1221.51 335.84 L1222.48 336.9 L1223.03 335.24 L1223.53 334.21 L1224.44 336.63 L1224.86 334.32 L1225.64 333.21 L1226.51 336.89 L1227.24 334.08 L1228.13 334.81 L1228.66 333.55 L1229.17 336.44 L1229.87 335.66 L1230.75 337.04 L1231.28 334.05 L1232.19 335.85 L1232.82 335.26 L1233.35 332.66 L1233.8 333.76 L1234.35 334.44 L1235.32 332.49 L1236.05 336.14 L1236.8 334.34 L1237.65 331.66 L1238.6 335.06 L1239.48 335.72 L1239.95 331.75 L1240.47 333.96 L1241.42 335.94 L1242.07 334.35 L1242.9 332.73 L1243.87 335.77 L1244.69 335.45 L1245.56 334.03 L1246.16 332.02 L1246.71 330.78 L1247.65 331.91 L1248.09 331.94 L1248.56 332.55 L1249.17 331.06 L1249.86 332.21 L1250.48 334.2 L1251.07 332.71 L1251.98 334.75 L1252.61 329.89 L1253.56 332.22 L1254.1 330.14 L1254.66 331.02 L1255.15 329.59 L1256.13 333.47 L1256.61 331.63 L1257.48 331.64 L1257.94 330.72 L1258.58 333.62 L1259.32 331.15 L1260.09 328.91 L1260.9 332.75 L1261.69 330.32 L1267.2 327.2 L1274.2 323 L1283.9 309.2 L1289.4 302.2 L1292.2 278.6 L1295 252 L1296.1 250.6 L1298.5 221.4 L1299.9 192.9 L1301.7 164.4 L1303.3 133.9 L1305.5 105 L1307.5 96.4 L1309.5 105 L1311 132.5 L1312 161.7 L1313.8 190.1 L1315.1 219.3 L1316.9 247.8 L1318.5 275.8 L1321.4 306.4 L1324.2 327.2 L1326 339.3 L1328.4 362.1 L1331.9 391.9 L1335.1 420.9 L1336.8 449.8 L1338.6 477.9 L1341.2 507.7 L1343.9 530.5 L1346.5 511.2 L1349.5 486.7 L1351.2 458.6 L1354 434.9 L1357 411.2 L1360 388.4 L1363.2 369.1 L1364 365.14 L1364.93 364.14 L1366.51 361.57 L1367.92 356.78 L1369.13 358.07 L1370.35 356.95 L1371.92 352.41 L1372.64 353.17 L1373.48 348.81 L1374.9 350.65 L1376.42 349.68 L1377.34 345.12 L1378.17 348.4 L1379 344.14 L1379.74 343.06 L1380.5 343.8 L1381.37 342.91 L1382.99 341 L1384.49 342.38 L1385.75 340.95 L1387.21 340.16 L1388.15 338.49 L1389.11 338.26 L1390.77 337.42 L1391.56 337.36 L1393.06 337.04 L1394.46 335.32 L1395.24 337.74 L1396 336.07 L1397.09 335.47 L1397.85 334.56 L1399.48 337.37 L1401.11 336.67 L1402.75 338.55 L1404.06 337.27 L1405.27 336.14 L1406.35 338.5 L1407.26 339.2 L1408.47 338.31 L1409.98 338.73 L1410.83 337.11 L1411.55 336.25 L1412 338.4 L1418 334 L1427.9 329.6 L1447.4 323.2 L1456 316 L1462.3 306.5 L1466.5 294 L1470.2 278.4 L1474.6 248.6 L1477.2 220.5 L1479.8 190.7 L1482.5 162.6 L1484 142 L1486 132.8 L1488 142 L1490.4 162.6 L1493 190.7 L1494.7 220.5 L1498.2 248.6 L1502.6 278.4 L1510.5 304.7 L1518 315 L1528.9 322.3 L1549.1 329.3 L1577 333 L1615 335 L1643 333 L1689 331" fill="none" stroke="#f34242" stroke-width="5.9" stroke-linecap="round" stroke-linejoin="round" stroke-dasharray="10.4 18.6" clip-path="url(#clipb)"/><path d="M992.7 355.31 L993.33 356.84 L994.04 351.74 L994.47 350.48 L994.9 353.61 L995.28 351.3 L995.71 348.68 L996.23 351.29 L996.82 344.15 L997.28 344.05 L997.99 347.05 L998.67 345.6 L999.33 344.9 L1000.01 338.4 L1000.72 338.31 L1001.38 337.25 L1001.9 334.59 L1002.42 332.98 L1002.8 335.59 L1003.48 335.11 L1004.11 330.55 L1004.77 326.02 L1005.4 326.66 L1005.81 323.98 L1006.37 322.98 L1006.9 324.46 L1007.4 320.7 L1007.95 320.95 L1008.38 320.29 L1008.87 319.01 L1009.49 324.63 L1009.99 322.55 L1010.73 317.17 L1011.13 322.16 L1011.82 320.38 L1012.22 318.45 L1012.94 321.14 L1013.62 315.76 L1014.33 316.34 L1014.97 314.11 L1015.73 317.03 L1016.38 315.31 L1016.98 318.84 L1017.57 318.22 L1018.22 319.12 L1018.68 318.6 L1019.31 319.23 L1019.74 319.61 L1020.35 323.99 L1020.92 321.26 L1021.44 324.22 L1021.81 322.42 L1022.58 324.46 L1023.05 326.22 L1023.64 325.56 L1024.18 327.85 L1024.87 325.67 L1025.35 329.34 L1026.11 329.86 L1026.65 331.19 L1027.11 326.96 L1027.66 333.38 L1028.31 329.14 L1028.94 333.59 L1029.39 331.98 L1029.87 329.82 L1030.33 329.76 L1030.81 328.84 L1031.32 329.43 L1031.98 333.35 L1032.31 334.73 L1032.73 332.89 L1033.3 332.14 L1033.76 333.08 L1034.15 336.27 L1034.53 336.18 L1034.95 332.84 L1035.46 331.31 L1035.84 333.87 L1036.37 337.85 L1037.13 332.55 L1037.7 333.55 L1038.38 335.39 L1039.1 337.45 L1039.49 333.94 L1039.93 340.29 L1040.32 337.85 L1040.82 337.25 L1041.5 336.82 L1042.15 340.44 L1042.89 339.93 L1043.62 339.89 L1044.21 341.56 L1044.9 343.99 L1045.29 338.94 L1045.85 343.96 L1046.42 340.55 L1047.17 340.76 L1047.54 339.16 L1047.88 343.99 L1048.26 344.02 L1048.97 346.23 L1049.65 342.41 L1050.26 345.46 L1050.9 341.85 L1051.57 340.79 L1052.03 347.14 L1052.57 342.2 L1053.25 343.69 L1053.58 340.84 L1054.02 343.1 L1054.76 342.73 L1055.47 347.19 L1055.98 348.32 L1056.65 344.96 L1057.09 344.94 L1057.82 345.69 L1058.23 344.69 L1058.77 343.56 L1059.36 342.64 L1060.05 343.81 L1060.42 346.36 L1060.89 348.05 L1061.44 345.03 L1062.13 342.29 L1062.79 344.78 L1063.31 346.51 L1063.65 345.55 L1064.04 345.06 L1064.44 339.22 L1064.99 344.86 L1065.43 341.41 L1066.03 339.2 L1066.59 337.09 L1067.12 341.89 L1067.6 337.71 L1067.95 340.76 L1068.47 341.79 L1069.13 335.51 L1069.86 340.67 L1070.55 339.34 L1071.18 338 L1071.8 336.53 L1072.25 332.93 L1072.9 335.58 L1073.25 335.58 L1073.85 334.13 L1074.52 336.08 L1075.02 335.2 L1075.57 333.01 L1076.08 335.07 L1076.61 334.73 L1077.08 332.34 L1077.82 331.76 L1078.31 327.07 L1078.85 328.94 L1079.54 331.17 L1080.3 328.43 L1080.81 328.98 L1081.47 325.26 L1081.9 325.51 L1082.37 326.35 L1083.13 325.32 L1083.87 325.56 L1084.29 330.1 L1084.66 323.89 L1085.04 323.37 L1085.54 324.13 L1085.94 322.56 L1086.58 322.47 L1087.01 325.86 L1087.73 326.16 L1088.37 326.12 L1089.05 326.85 L1089.45 321.05 L1090.06 324.11 L1090.62 326.73 L1091.02 326.77 L1091.54 325.5 L1091.98 325.12 L1092.56 327.85 L1093.29 326.94 L1093.94 326.56 L1094.55 327.87 L1095.26 334.48 L1095.7 333.72 L1096.13 329.64 L1096.5 330.09 L1096.88 331.43 L1097.46 328.67 L1098.11 326.51 L1098.58 326.78 L1098.91 330.01 L1099.28 324.02 L1099.96 328.13 L1100.49 324.77 L1100.88 321.89 L1101.44 322.51 L1101.84 325.69 L1102.17 322.2 L1102.83 324.42 L1103.21 324.56 L1103.79 324.18 L1104.53 325.46 L1105.13 325.56 L1105.68 324.57 L1106.36 325.26 L1106.86 322.12 L1107.54 324.21 L1108.06 324.14 L1108.63 325.03 L1109.33 326.42 L1109.9 327.73 L1110.43 326.58 L1111.09 327.91 L1111.74 329.14 L1112.32 327.52 L1112.73 325.97 L1113.25 327.67 L1113.98 325.49 L1114.46 329.64 L1115 330.51 L1115.4 330.28 L1115.92 329.4 L1116.27 328.66 L1116.95 330.86 L1117.53 329.41 L1117.88 331.13 L1118.41 331.54 L1119.01 330.03 L1119.72 328.88 L1120.47 329 L1121.23 332.19 L1121.76 334.41 L1122.31 332.3 L1122.67 334.1 L1123.28 331.28 L1123.66 332.44 L1124.4 335.21 L1124.93 330.71 L1125.63 331.88 L1126.28 333.76 L1127.04 332.04 L1127.71 335.48 L1128.05 334.72 L1128.51 335.61 L1129.26 335.69 L1129.81 335.53 L1130.25 334.91 L1130.63 336.46 L1130.99 335.49 L1131.4 335.83 L1131.76 332.95 L1132.36 337.03 L1133.08 337.04 L1133.85 334.3 L1134.46 337.27 L1134.86 334.62 L1135.3 336.92 L1135.98 338.19 L1136.56 334.84 L1137.2 337.49 L1137.61 338.22 L1138.05 336.64 L1138.58 339.29 L1138.95 337.69 L1139.39 339.11 L1140.08 337.07 L1140.72 338.4 L1141.15 337.49 L1141.71 340.65 L1142.31 336.34 L1142.98 339.81 L1143.5 338.01 L1144.02 340.32 L1144.47 337.03 L1145.19 338.43 L1145.55 340.79 L1145.93 337.69 L1146.53 339.11 L1147.26 336.07 L1147.84 339.77 L1148.37 338.62 L1148.91 338.41 L1149.66 335.99 L1150.31 335.74 L1151.03 337.79 L1151.74 338.11 L1152.33 338.29 L1152.73 336.01 L1153.09 335.91 L1153.73 333.98 L1154.41 334.43 L1154.83 333.01 L1155.42 333.83 L1155.77 333.24 L1156.52 333.86 L1157.16 333.54 L1157.52 334.64 L1157.94 331.97 L1158.54 335.16 L1158.88 336.73 L1159.21 332.41 L1159.69 336.02 L1160.35 335.83 L1160.86 336.85 L1161.25 337.19 L1161.61 332.72 L1162.27 336.28 L1162.89 333.46 L1163.6 335.07 L1164.02 332.79 L1164.79 332.68 L1165.22 334.43 L1165.94 337.21 L1166.64 336.2 L1166.97 336.85 L1167.39 338.09 L1168.15 333.27 L1168.8 334.36 L1169.17 337.97 L1169.7 334.8 L1170 338.04 L1170.95 337.85 L1171.42 336.39 L1172.08 336.08 L1172.57 334.44 L1173.24 334.55 L1173.91 333.59 L1174.38 336.86 L1175.04 335.89 L1175.87 335.13 L1176.32 337.15 L1177.07 336.52 L1177.84 338 L1178.46 336.96 L1179.09 336.04 L1179.88 334.78 L1180.34 335.53 L1181.17 336.06 L1181.84 336.29 L1182.36 334.05 L1182.96 337.08 L1183.49 333.7 L1183.96 333.32 L1184.54 335.86 L1185.42 334.67 L1186.05 334.45 L1186.64 336.78 L1187.36 334.26 L1187.84 336.77 L1188.66 336.96 L1189.21 335.58 L1190.15 335.77 L1191.1 333.7 L1192.06 333.13 L1192.72 332.95 L1193.59 336.11 L1194.55 336.65 L1195.51 335.34 L1196.48 336.31 L1197.09 337.37 L1197.72 333.6 L1198.19 334.9 L1198.72 337.12 L1199.67 333.65 L1200.15 335.13 L1200.66 335.18 L1201.54 333.75 L1202.19 336.84 L1202.86 334.13 L1203.78 336.35 L1204.7 335.71 L1205.36 335.71 L1206.24 335.42 L1206.79 333.75 L1207.44 336.01 L1208.17 334.91 L1209.06 332.76 L1209.83 333.8 L1210.56 336.19 L1211.12 336.72 L1211.59 334.83 L1212.31 333.24 L1213.04 334.34 L1213.72 335.5 L1214.14 333.84 L1215 332.68 L1215.9 332.94 L1216.71 332.76 L1217.38 333.93 L1217.84 335.24 L1218.53 335.17 L1219.25 334.5 L1219.97 333.23 L1220.89 332.18 L1221.8 335.87 L1222.5 335.43 L1223.3 334.57 L1223.88 333.18 L1224.5 333.07 L1225.46 333.22 L1226.09 333.57 L1226.97 333.81 L1227.7 332.72 L1228.28 331.9 L1228.82 332.71 L1229.71 333.82 L1230.2 333.61 L1230.68 334.09 L1231.35 335.47 L1231.92 335.41 L1232.48 336.02 L1233.25 331.47 L1234.12 332.56 L1234.75 331.91 L1235.63 331.61 L1236.47 333.04 L1237.27 332.52 L1237.73 335.48 L1238.52 331.87 L1239.49 335.4 L1240.01 331.09 L1240.77 331.64 L1241.6 333.19 L1242.42 333.64 L1243.27 334.81 L1244.03 333.68 L1244.63 331.46 L1245.1 334.91 L1245.64 332.82 L1246.23 333.72 L1246.95 334.85 L1247.62 332.43 L1248.4 334.24 L1249.34 332.12 L1250.26 335.31 L1251.23 331.2 L1251.86 334.28 L1252.74 330.74 L1253.39 334.02 L1254.23 333.1 L1254.77 332.47 L1255.22 332.03 L1255.88 334.45 L1256.63 332.48 L1257.19 331.99 L1257.98 332.61 L1258.5 334.4 L1259.24 335.09 L1259.96 333.42 L1260.62 333.34 L1261.56 335.12 L1262.35 332.63 L1262.8 333.6 L1263.44 332.49 L1263.89 331.65 L1264.53 333.9 L1265.37 333.25 L1266.16 332.19 L1266.68 332.97 L1267.13 332.93 L1267.84 332.8 L1268.33 331.66 L1269.01 331.83 L1269.79 332.21 L1270.56 333.26 L1271.32 332.72 L1271.85 332.27 L1272.82 332.06 L1273.4 332.59 L1274.12 333.3 L1274.71 333.7 L1275.14 333.28 L1275.88 333.53 L1276.38 333.01 L1277.33 332.95 L1277.82 333.55 L1278.78 331.59 L1279.66 331.5 L1285 333 L1300 332.3 L1320 330.8 L1332.6 326.4 L1340.3 321 L1346.9 312.2 L1352.4 300.1 L1355.7 288 L1357.9 276 L1359.2 262.8 L1360.3 250.6 L1362.4 225.6 L1364 200.6 L1365.1 176 L1366.5 151 L1367.2 126.3 L1368.3 113.8 L1368.9 100.8 L1370.3 88 L1371.6 81 L1372.4 78.5 L1373.2 84 L1373.5 93.6 L1374.2 106.1 L1375.6 131.1 L1376.7 155.8 L1378.1 180.4 L1379 205.4 L1380.8 230.4 L1382.8 254.7 L1385.5 275 L1389 295 L1393 310 L1397.4 320 L1404.2 327.9 L1411.2 336.1 L1419.1 344.2 L1424.4 348.4 L1429.3 359.5 L1431.8 368.2 L1435.3 378.8 L1436.7 389.3 L1438.4 396.8 L1439.5 409.5 L1440.7 421.4 L1442.8 434 L1443.3 446.3 L1444 458.9 L1444.9 471.2 L1446 483.7 L1447.2 496 L1447.7 508.6 L1448.9 520.9 L1450.7 526.1 L1452.5 538.4 L1454.2 526.1 L1456.3 519.1 L1456.5 506.8 L1457.2 494.2 L1458.1 482.8 L1459.1 470.5 L1459.5 458.6 L1460.4 446.7 L1461.6 434.9 L1463 422.6 L1464.2 410.4 L1466 396.3 L1467.5 384.6 L1469.3 374.9 L1473.9 362.1 L1476.1 351.9 L1479.6 348.9 L1483.2 343.7 L1488.4 336.7 L1494 328.8 L1500 320.5 L1506.1 309.1 L1509.5 297 L1512.3 283.7 L1515.8 259.1 L1517.5 234.6 L1519.3 210 L1521.1 185.4 L1522.8 160.9 L1523.3 148 L1524 136 L1525.3 126 L1527.3 120.5 L1529 119.2 L1530.3 121.5 L1531 128 L1531.5 136 L1532.3 150 L1533.3 169.6 L1534.7 194.2 L1536 219.6 L1538.2 244.2 L1540.4 269.6 L1543.5 281.1 L1546.5 293.3 L1550.5 304.7 L1555.3 314.4 L1563.9 322.3 L1572.8 326 L1583.1 329.3 L1598 330.3 L1614 333.1 L1632.7 332.6 L1652.4 332.6 L1689 333.1" fill="none" stroke="#1e6ee5" stroke-width="5.6" stroke-linecap="round" stroke-linejoin="round" stroke-dasharray="0 12.4" clip-path="url(#clipb)"/><path d="M158.8 743.9 L221.1 808.2 L282.8 913.5 L345.7 1009.3 L407.2 1063.4 L469.5 1100 L531.5 1137.1 L593.5 1157.9 L656.5 1174.6 L718.5 1218.4 L780.2 1221.4" fill="none" stroke="#ff0000" stroke-width="6" stroke-linejoin="round"/><circle cx="158.8" cy="743.9" r="10.2" fill="#ff0000"/><circle cx="221.1" cy="808.2" r="10.2" fill="#ff0000"/><circle cx="282.8" cy="913.5" r="10.2" fill="#ff0000"/><circle cx="345.7" cy="1009.3" r="10.2" fill="#ff0000"/><circle cx="407.2" cy="1063.4" r="10.2" fill="#ff0000"/><circle cx="469.5" cy="1100" r="10.2" fill="#ff0000"/><circle cx="531.5" cy="1137.1" r="10.2" fill="#ff0000"/><circle cx="593.5" cy="1157.9" r="10.2" fill="#ff0000"/><circle cx="656.5" cy="1174.6" r="10.2" fill="#ff0000"/><circle cx="718.5" cy="1218.4" r="10.2" fill="#ff0000"/><circle cx="780.2" cy="1221.4" r="10.2" fill="#ff0000"/><path d="M1033.4 751.2 L1095.3 808.3 L1158.3 895.8 L1219.6 947.2 L1281.3 974.5 L1344.3 992.8 L1406.7 1019.6 L1468.5 1103.9 L1530.5 1194.5 L1592.9 1002.8 L1654.7 996.8" fill="none" stroke="#ff0000" stroke-width="6" stroke-linejoin="round"/><circle cx="1033.4" cy="751.2" r="10.2" fill="#ff0000"/><circle cx="1095.3" cy="808.3" r="10.2" fill="#ff0000"/><circle cx="1158.3" cy="895.8" r="10.2" fill="#ff0000"/><circle cx="1219.6" cy="947.2" r="10.2" fill="#ff0000"/><circle cx="1281.3" cy="974.5" r="10.2" fill="#ff0000"/><circle cx="1344.3" cy="992.8" r="10.2" fill="#ff0000"/><circle cx="1406.7" cy="1019.6" r="10.2" fill="#ff0000"/><circle cx="1468.5" cy="1103.9" r="10.2" fill="#ff0000"/><circle cx="1530.5" cy="1194.5" r="10.2" fill="#ff0000"/><circle cx="1592.9" cy="1002.8" r="10.2" fill="#ff0000"/><circle cx="1654.7" cy="996.8" r="10.2" fill="#ff0000"/><path d="M1304.6 111 L1305.3 100 L1307.2 97.8 L1309 99 L1309.6 109 M1484.5 139 L1485.3 134 L1486.6 133 L1487.8 135 L1488 139" fill="none" stroke="#f34242" stroke-width="5.9" stroke-linecap="round" stroke-linejoin="round"/><text x="470" y="660.2" text-anchor="middle" class="ax">Frequency (GHz)</text><text x="1340.65" y="660.2" text-anchor="middle" class="ax">Frequency (GHz)</text><text x="470.1" y="1356.5" text-anchor="middle" class="ax">Capacitance (pF)</text><text x="1340.65" y="1356.5" text-anchor="middle" class="ax">Voltage (V)</text><text transform="translate(30.3 284.8) rotate(-90)" x="0" y="0" text-anchor="middle" class="ax">Group Delay (ns)</text><text transform="translate(909 284.8) rotate(-90)" x="0" y="0" text-anchor="middle" class="ax">Group Delay (ns)</text><text transform="translate(30.8 980.8) rotate(-90)" x="0" y="0" text-anchor="middle" class="ax">Group Delay (ns)</text><text transform="translate(909 980.8) rotate(-90)" x="0" y="0" text-anchor="middle" class="ax">Group Delay (ns)</text><text x="148.7" y="514.0" class="pl">(a)</text><text x="1019.7" y="514.0" class="pl">(b)</text><text x="148.7" y="1210.0" class="pl">(c)</text><text x="1019.7" y="1210.0" class="pl">(d)</text><text x="790.5" y="64.5" text-anchor="end" class="an">Simulation</text><text x="1661.0" y="64.5" text-anchor="end" class="an">Experiment</text><text x="790.5" y="759.8" text-anchor="end" class="an">Simulation</text><text x="1661.0" y="759.8" text-anchor="end" class="an">Experiment</text><path d="M414.65 174H484.85" stroke="#545454" stroke-width="5.9" stroke-linecap="round"/><path d="M414.65 212.8H484.85" stroke="#f34242" stroke-width="5.9" stroke-linecap="round" stroke-dasharray="10.4 18.6"/><path d="M414.65 251.6H484.85" stroke="#1e6ee5" stroke-width="5.9" stroke-linecap="round" stroke-dasharray="0 12.5"/><text x="492.3" y="184.4" class="lg">2.65 pF</text><text x="492.3" y="223.2" class="lg">1.50 pF</text><text x="492.3" y="262" class="lg">1.00 pF</text><path d="M1502.15 382H1572.55" stroke="#545454" stroke-width="5.9" stroke-linecap="round"/><path d="M1502.15 420.9H1572.55" stroke="#f34242" stroke-width="5.9" stroke-linecap="round" stroke-dasharray="10.4 18.6"/><path d="M1502.15 459.7H1572.55" stroke="#1e6ee5" stroke-width="5.9" stroke-linecap="round" stroke-dasharray="0 12.5"/><text x="1580" y="392.4" class="lg">0 V</text><text x="1580" y="431.3" class="lg">2 V</text><text x="1580" y="470.1" class="lg">5 V</text><path d="M505.1 944.7H575.2" stroke="#ff0000" stroke-width="6" stroke-linecap="round"/><circle cx="539.8" cy="944.7" r="10.1" fill="#ff0000"/><text x="582.6" y="954.9" class="lg">2.31 GHz</text><path d="M1376.2 944.7H1444.8" stroke="#ff0000" stroke-width="6" stroke-linecap="round"/><circle cx="1410.3" cy="944.7" r="10.1" fill="#ff0000"/><text x="1453.6" y="954.9" class="lg">2.65 GHz</text></svg></body></html>
